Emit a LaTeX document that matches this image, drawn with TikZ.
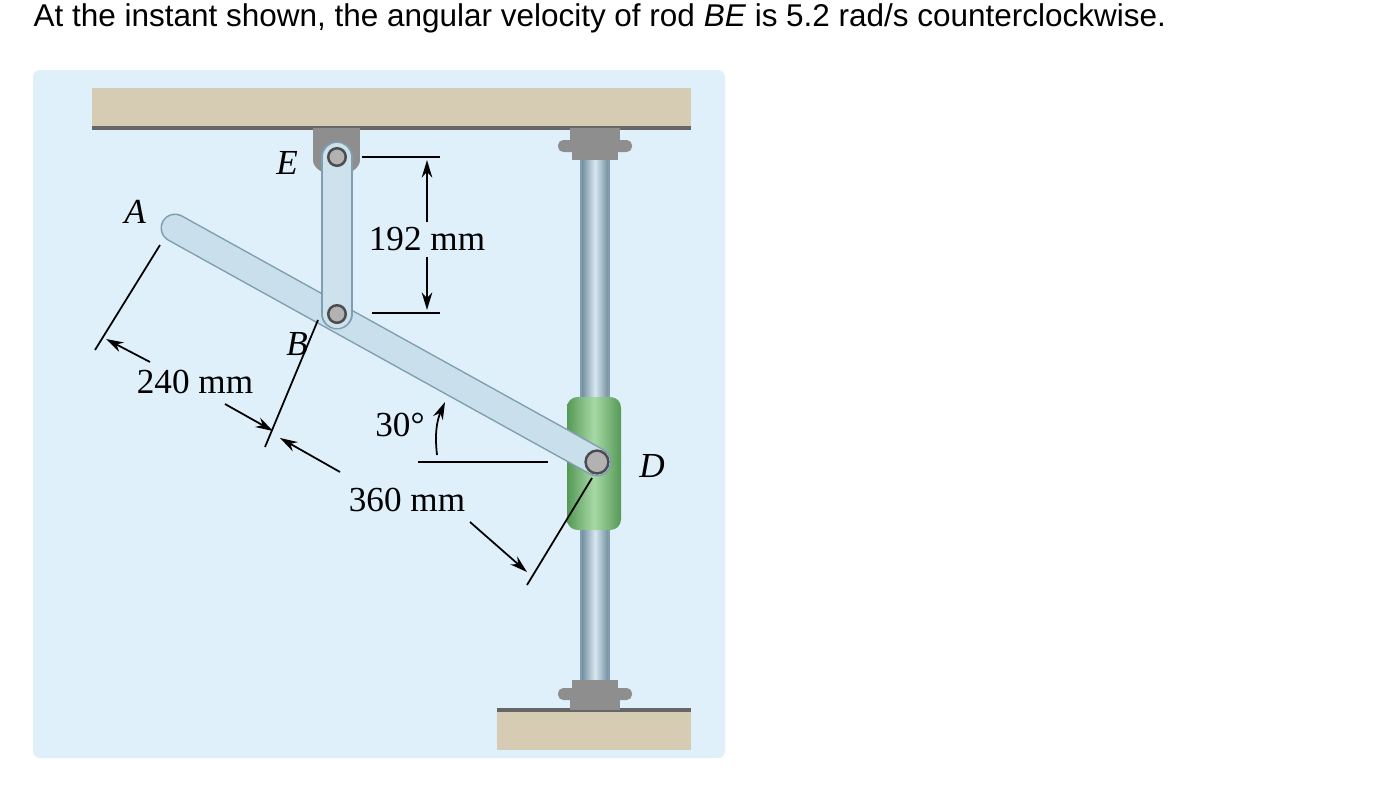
\documentclass[tikz,border=0pt]{standalone}
\usepackage{fontspec}
\setmainfont{Liberation Serif}
\newfontfamily\titlefont{Liberation Sans}
\usetikzlibrary{arrows.meta}
\definecolor{panel}{HTML}{DFF0FB}
\definecolor{tan}{HTML}{D6CCB4}
\definecolor{rodc}{HTML}{C9DFEB}
\definecolor{rodedge}{HTML}{7F9FB0}
\definecolor{pole}{HTML}{9CC4DC}
\definecolor{mount}{HTML}{8E8E8E}
\definecolor{collar}{HTML}{6CBF6A}
\tikzset{dim/.style={line width=0.5pt},
 arr/.style={-{Stealth[length=5pt,width=3pt]},line width=0.5pt},
 lbl/.style={font=\fontsize{10}{12}\selectfont},
 ilbl/.style={font=\fontsize{10}{12}\selectfont\itshape},
 pin/.style={circle,draw=black!70,fill=gray!60,line width=0.7pt,minimum size=5pt,inner sep=0pt}}
\begin{document}
\begin{tikzpicture}[x=0.01cm,y=-0.01cm]
\useasboundingbox (0,0) rectangle (1396,784);
\fill[white] (0,0) rectangle (1396,784);
\node[anchor=west,font=\titlefont\fontsize{8.95}{10}\selectfont,inner sep=0] (title) at (33,18) {At the instant shown, the angular velocity of rod \textit{BE} is 5.2 rad/s counterclockwise.};
\fill[panel,rounded corners=2pt] (33,70) rectangle (725,758);
% ceiling and floor
\fill[tan] (92,88) rectangle (691,128);
\draw[black!60,line width=1pt] (92,128) -- (691,128);
\fill[tan] (497,710) rectangle (691,750);
\draw[black!60,line width=1pt] (497,710) -- (691,710);
% pole
\shade[left color=pole!70!black,right color=pole!70!black,middle color=pole!40] (581,150) rectangle (609,690);
\draw[rodedge] (581,150) rectangle (609,690);
% mounts
\fill[mount] (570,128) rectangle (620,142);
\fill[mount,rounded corners=1.5pt] (558,140) rectangle (632,152);
\fill[mount] (572,152) rectangle (618,160);
\fill[mount] (572,680) rectangle (618,688);
\fill[mount,rounded corners=1.5pt] (558,688) rectangle (632,700);
\fill[mount] (570,700) rectangle (620,710);
% collar
\shade[left color=collar!80!black,right color=collar!80!black,middle color=collar!60!white,rounded corners=3pt] (567,397) rectangle (621,530);
% E bracket
\fill[mount] (313,128) rectangle (360,160);
\fill[mount] (336.5,160) ellipse (23.5 and 15);
% rod AD
\coordinate (A) at (175,228);
\coordinate (D) at (597,462);
\draw[rodedge,line width=0.29cm,line cap=round] (A) -- (D);
\draw[rodc,line width=0.26cm,line cap=round] (A) -- (D);
% rod BE
\coordinate (B) at (337,314);
\coordinate (E) at (337,157);
\draw[rodedge,line width=0.31cm,line cap=round] (E) -- (B);
\draw[rodc!90!white,line width=0.28cm,line cap=round] (E) -- (B);
\node[pin] (pE) at (E) {};
\node[pin] (pB) at (B) {};
\node[pin,minimum size=6.5pt] (pD) at (D) {};
% labels
\node[ilbl] (lA) at (135,212) {A};
\node[ilbl] (lE) at (287,163) {E};
\node[ilbl] (lB) at (297,344) {B};
\node[ilbl] (lD) at (652,466) {D};
% 192 mm
\draw[dim] (362,157) -- (440,157);
\draw[dim] (372,313) -- (440,313);
\node[lbl,inner sep=1pt] (t192) at (427,239) {192 mm};
\draw[arr] (427,222) -- (427,160);
\draw[arr] (427,257) -- (427,310);
% 240 mm
\draw[dim] (160,245) -- (95,350);
\draw[dim] (318,320) -- (265,447);
\node[lbl] (t240) at (195,382) {240 mm};
\draw[arr] (150,362) -- (106,339);
\draw[arr] (225,404) -- (273,431);
% 360 mm
\draw[dim] (592,478) -- (527,585);
\node[lbl] (t360) at (407,500) {360 mm};
\draw[arr] (340,472) -- (280,438);
\draw[arr] (470,522) -- (527,572);
% 30 deg
\draw[dim] (418,462) -- (548,462);
\node[lbl] (t30) at (400,425) {30°};
\draw[arr] (437,455) to[bend left=15] (445,402);
\end{tikzpicture}
\end{document}
